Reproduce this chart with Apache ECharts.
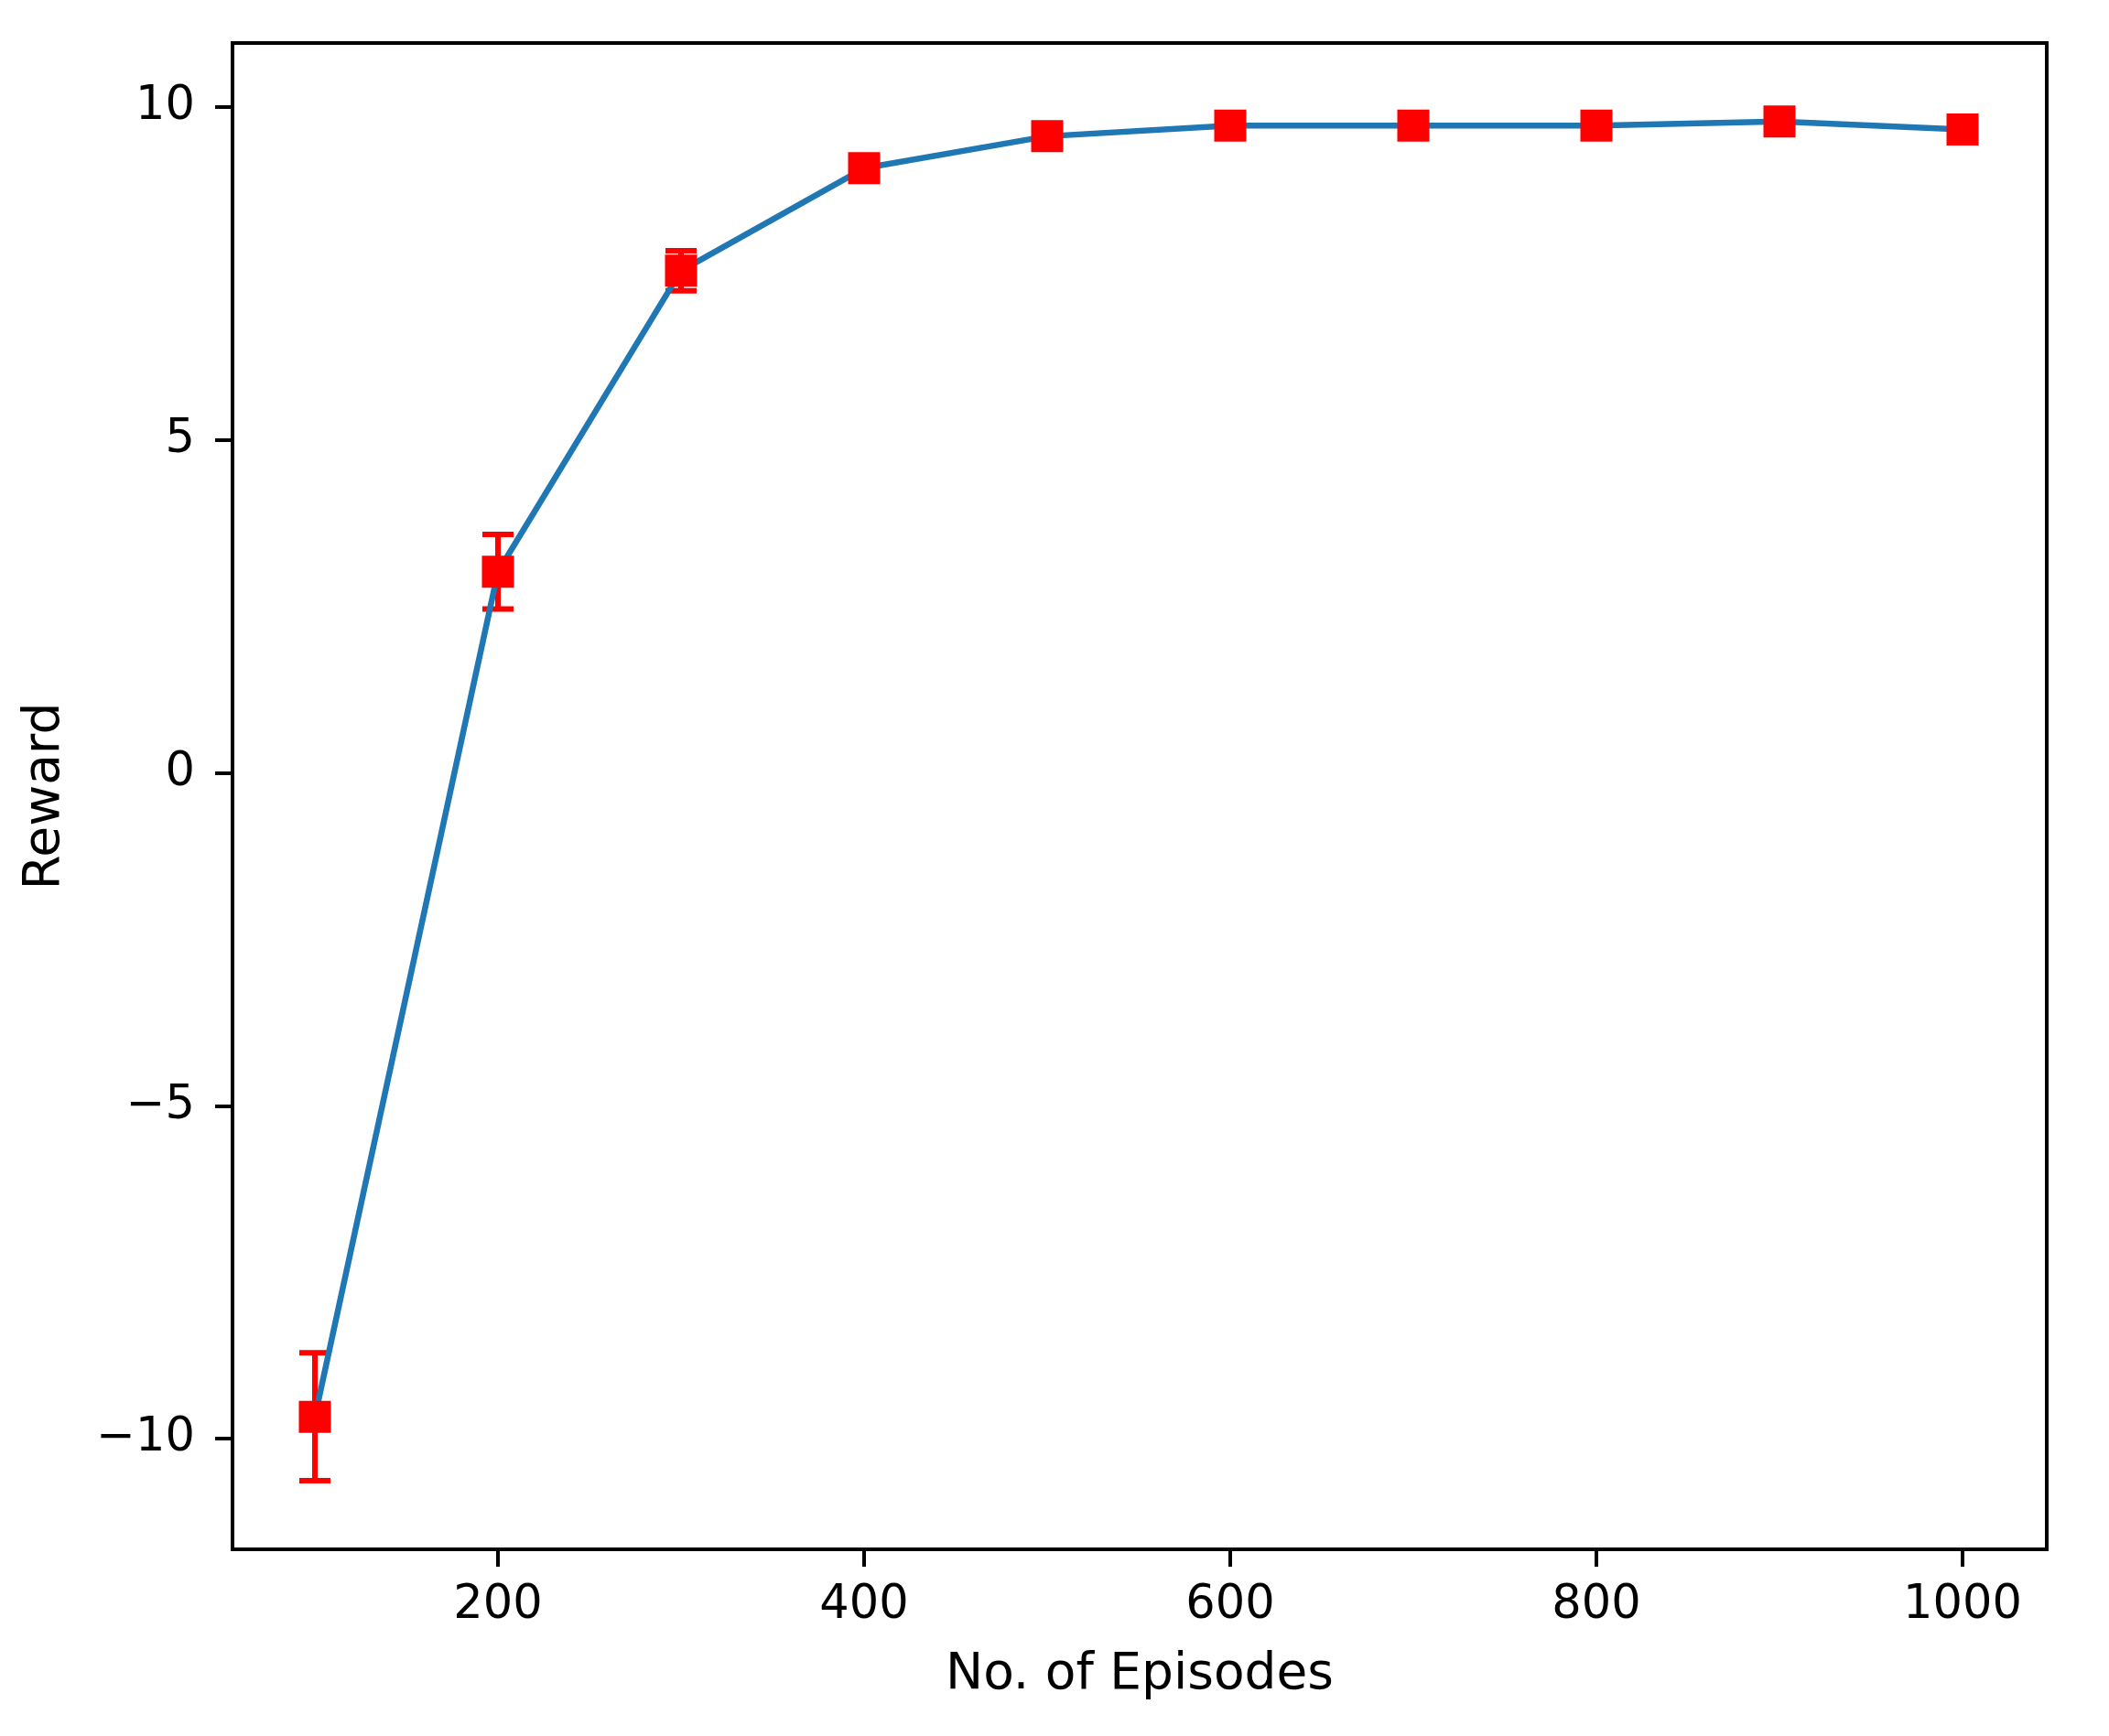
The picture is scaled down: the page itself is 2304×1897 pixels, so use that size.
<!DOCTYPE html>
<html>
<head>
<meta charset="utf-8">
<script src="https://cdn.jsdelivr.net/npm/echarts@6/dist/echarts.min.js"></script>
<style>
html,body{margin:0;padding:0;background:#fff;}
#chart{width:2304px;height:1897px;}
</style>
</head>
<body>
<div id="chart"></div>
<script>
const episodes = [100, 200, 300, 400, 500, 600, 700, 800, 900, 1000];
const rewardMean = [-9.67, 3.02, 7.54, 9.08, 9.56, 9.72, 9.72, 9.72, 9.78, 9.66];
const rewardErr = [0.96, 0.56, 0.30, 0.15, 0.08, 0.06, 0.06, 0.06, 0.06, 0.08];
const xTicks = [200, 400, 600, 800, 1000];
const yTicks = [-10, -5, 0, 5, 10];
const xLabel = 'No. of Episodes';
const yLabel = 'Reward';

const lineData = episodes.map((e, i) => [e, rewardMean[i]]);
const errData = episodes.map((e, i) => [e, rewardMean[i] - rewardErr[i], rewardMean[i] + rewardErr[i]]);

const FONT = 'DejaVu Sans';
const FS = 51;
const NFS = 55;
const fmt = v => String(v).replace('-', '\u2212');

const chart = echarts.init(document.getElementById('chart'), null, {renderer: 'canvas'});
chart.setOption({
  animation: false,
  backgroundColor: '#ffffff',
  grid: {
    left: 254, right: 68, top: 47, bottom: 204,
    show: true, borderColor: '#000', borderWidth: 4, backgroundColor: 'transparent'
  },
  xAxis: {
    type: 'value', min: 55, max: 1046,
    name: xLabel, nameLocation: 'middle', nameGap: 110,
    nameTextStyle: {fontFamily: FONT, fontSize: NFS, color: '#000'},
    axisLine: {show: true, onZero: false, lineStyle: {color: '#000', width: 4}},
    axisTick: {show: true, inside: false, length: 19, lineStyle: {color: '#000', width: 4}, customValues: xTicks},
    axisLabel: {show: true, margin: 36, fontFamily: FONT, fontSize: FS, color: '#000', customValues: xTicks, formatter: fmt},
    splitLine: {show: false}
  },
  yAxis: {
    type: 'value', min: -11.66, max: 10.96,
    name: yLabel, nameLocation: 'middle', nameGap: 177, nameRotate: 90,
    nameTextStyle: {fontFamily: FONT, fontSize: NFS, color: '#000'},
    axisLine: {show: true, onZero: false, lineStyle: {color: '#000', width: 4}},
    axisTick: {show: true, inside: false, length: 19, lineStyle: {color: '#000', width: 4}, customValues: yTicks},
    axisLabel: {show: true, margin: 41, fontFamily: FONT, fontSize: FS, color: '#000', customValues: yTicks, formatter: fmt},
    splitLine: {show: false}
  },
  series: [
    {
      type: 'custom',
      z: 1,
      data: errData,
      encode: {x: 0, y: [1, 2]},
      renderItem: function (params, api) {
        const x = api.value(0);
        const lo = api.coord([x, api.value(1)]);
        const hi = api.coord([x, api.value(2)]);
        const hw = 17;
        const st = {stroke: '#ff0000', lineWidth: 6};
        return {
          type: 'group',
          children: [
            {type: 'line', shape: {x1: hi[0], y1: hi[1], x2: lo[0], y2: lo[1]}, style: st},
            {type: 'line', shape: {x1: hi[0] - hw, y1: hi[1], x2: hi[0] + hw, y2: hi[1]}, style: st},
            {type: 'line', shape: {x1: lo[0] - hw, y1: lo[1], x2: lo[0] + hw, y2: lo[1]}, style: st}
          ]
        };
      }
    },
    {
      type: 'line',
      z: 2,
      data: lineData,
      showSymbol: false,
      symbol: 'none',
      lineStyle: {color: '#1f77b4', width: 6.5}
    },
    {
      type: 'scatter',
      z: 3,
      data: lineData,
      symbol: 'rect',
      symbolSize: 35,
      itemStyle: {color: '#ff0000', opacity: 1}
    }
  ]
});
</script>
</body>
</html>
